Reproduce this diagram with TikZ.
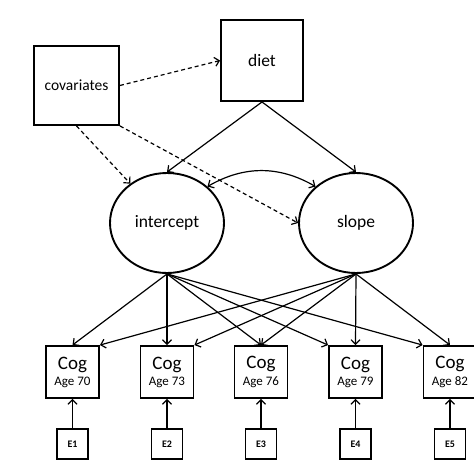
\documentclass[tikz,border=0pt]{standalone}
\usepackage{fontspec}
\setmainfont{Carlito}
\usetikzlibrary{arrows.meta,shapes.geometric}

\tikzstyle{observed}=[draw, line width=1.9pt, inner sep=0pt]
\tikzstyle{latent}=[draw, ellipse, line width=1.9pt, minimum width=114pt, minimum height=100pt, inner sep=0pt]
\tikzstyle{cog}=[observed, minimum width=53pt, minimum height=52pt, align=center]
\tikzstyle{error}=[observed, minimum width=31pt, minimum height=30pt, font=\fontsize{10}{11}\selectfont\bfseries]
\tikzstyle{arrow}=[line width=1.2pt, -{Straight Barb[length=4.5pt, width=9pt]}]
\tikzstyle{dasharrow}=[arrow, dash pattern=on 4pt off 3pt]

\newcommand{\cogtext}[1]{{\fontsize{19}{17}\selectfont Cog}\\[4pt]{\fontsize{13}{13}\selectfont Age #1}}

\begin{document}
\begin{tikzpicture}[x=1pt, y=1pt]
      \useasboundingbox (0,0) rectangle (474,-474);

      \node[observed, minimum width=85pt, minimum height=79pt, font=\fontsize{15.5}{17}\selectfont] (cov) at (76.5, -85.5) {covariates};
      \node[observed, minimum width=82pt, minimum height=81pt, font=\fontsize{17.5}{19}\selectfont] (diet) at (262, -60.5) {diet};
      \node[latent, font=\fontsize{17.5}{19}\selectfont] (int) at (167, -223) {intercept};
      \node[latent, font=\fontsize{17.5}{19}\selectfont] (slope) at (356, -223) {slope};

      \node[cog] (c70) at (72.5, -372) {\cogtext{70}};
      \node[cog] (c73) at (167, -372) {\cogtext{73}};
      \node[cog] (c76) at (261, -372) {\cogtext{76}};
      \node[cog] (c79) at (355.5, -372) {\cogtext{79}};
      \node[cog] (c82) at (450, -372) {\cogtext{82}};

      \node[error] (e1) at (72.5, -444) {E1};
      \node[error] (e2) at (167, -444) {E2};
      \node[error] (e3) at (261, -444) {E3};
      \node[error] (e4) at (355.5, -444) {E4};
      \node[error] (e5) at (450, -444) {E5};

      \draw[dasharrow] (cov.east) to (diet.west);
      \draw[dasharrow] (cov.south) to (int);
      \draw[dasharrow] (cov.south east) to (slope.west);
      \draw[arrow] (diet.south) to (int.north);
      \draw[arrow] (diet.south) to (slope.north);
      \draw[arrow, {Straight Barb[length=4.5pt, width=9pt]}-{Straight Barb[length=4.5pt, width=9pt]}] (int.42) to[bend left=30] (slope.138);

      \draw[arrow] (int.south) to (c70.north);
      \draw[arrow] (int.south) to (c73.north);
      \draw[arrow] (int.south) to (c76.north);
      \draw[arrow] (int.south) to (c79.north west);
      \draw[arrow] (int.south) to (c82.north west);
      \draw[arrow] (slope.south) to (c70.north east);
      \draw[arrow] (slope.south) to (c73.north east);
      \draw[arrow] (slope.south) to (c76.north);
      \draw[arrow] (slope.south) to (c79.north);
      \draw[arrow] (slope.south) to (c82.north);

      \draw[arrow] (e1) to (c70);
      \draw[arrow] (e2) to (c73);
      \draw[arrow] (e3) to (c76);
      \draw[arrow] (e4) to (c79);
      \draw[arrow] (e5) to (c82);
    \end{tikzpicture}
\end{document}
